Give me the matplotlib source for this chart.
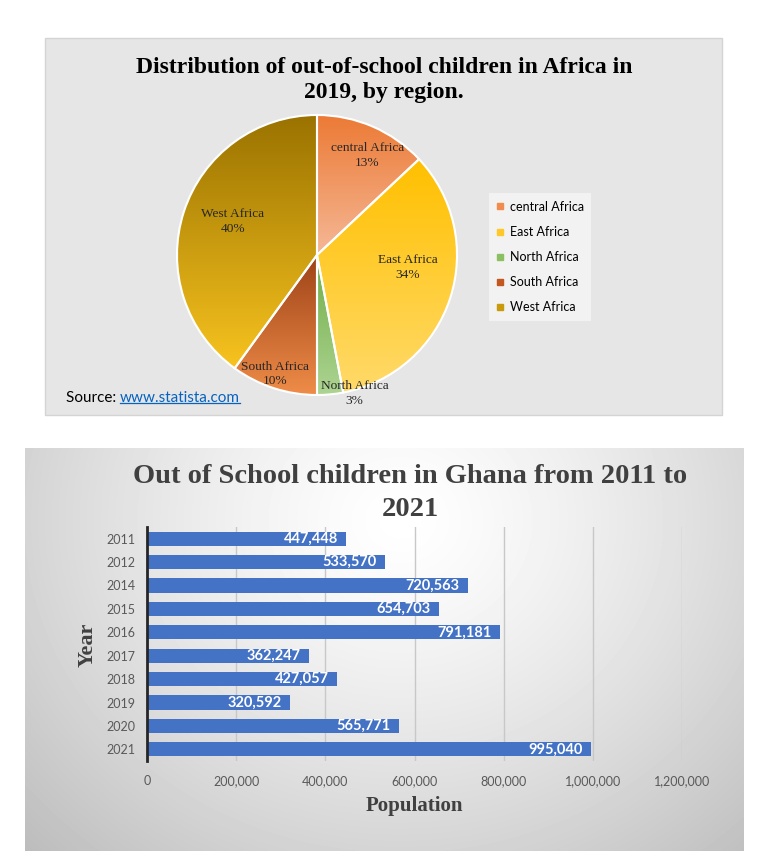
import numpy as np
import matplotlib.pyplot as plt
from matplotlib.colors import LinearSegmentedColormap
from matplotlib.patches import Rectangle
from matplotlib.lines import Line2D
from matplotlib.ticker import FuncFormatter

# ---- data ----
regions = ['central Africa', 'East Africa', 'North Africa', 'South Africa', 'West Africa']
shares = [13, 34, 3, 10, 40]

years = ['2011', '2012', '2014', '2015', '2016', '2017', '2018', '2019', '2020', '2021']
children = [447448, 533570, 720563, 654703, 791181, 362247, 427057, 320592, 565771, 995040]

# wedge gradients (top colour, bottom colour) and legend swatches
grad_top = ['#ec7a35', '#ffc000', '#70ad47', '#9e4318', '#9a7200']
grad_bot = ['#f5b896', '#ffda6a', '#add492', '#ef8c48', '#f7c31f']
legend_cols = ['#f08c4d', '#ffc829', '#8cbf62', '#c4561f', '#c99a0c']
label_xy = [(0.36, 0.71), (0.65, -0.09), (0.27, -0.99), (-0.30, -0.85), (-0.60, 0.24)]

SERIF = 'Liberation Serif'
SANS = 'Lato'

W, H = 768, 866
fig = plt.figure(figsize=(W / 100, H / 100), dpi=100)

# background panels, pixel coordinates
bg = fig.add_axes([0, 0, 1, 1])
bg.add_patch(Rectangle((45, 38), 677, 377, facecolor='#e7e6e6', edgecolor='#d4d4d4', lw=1, zorder=0))
yy, xx = np.mgrid[448:851, 25:744]
d = np.hypot((xx - 400) / 430, (yy - 520) / 380)
g = np.clip(1 - 0.2 * d ** 1.3, 0, 1)
bg.imshow(g, cmap='gray', vmin=0, vmax=1, extent=[25, 744, 851, 448], aspect='auto', zorder=0)
bg.set_xlim(0, W)
bg.set_ylim(H, 0)
bg.axis('off')

# ---- pie ----
cx, cy, R = 317, 255, 140
m = 1.05
pax = fig.add_axes([(cx - R * m) / W, 1 - (cy + R * m) / H, 2 * R * m / W, 2 * R * m / H])
wedges, _ = pax.pie(shares, startangle=90, counterclock=False, radius=1,
                    wedgeprops=dict(edgecolor='white', linewidth=1.5))
grad = np.linspace(0, 1, 256).reshape(-1, 1)
for w, c0, c1 in zip(wedges, grad_top, grad_bot):
    ext = w.get_path().get_extents()
    cmap = LinearSegmentedColormap.from_list('', [c1, c0])
    im = pax.imshow(grad, cmap=cmap, extent=[ext.x0, ext.x1, ext.y0, ext.y1],
                    origin='lower', aspect='auto', zorder=1)
    im.set_clip_path(w)
    w.set_facecolor('none')
    w.set_zorder(2)
pax.set_xlim(-m, m)
pax.set_ylim(-m, m)
pax.axis('off')

for (x, y), name, s in zip(label_xy, regions, shares):
    pax.text(x, y, f'{name}\n{s}%', ha='center', va='center', fontsize=9.6,
             family=SERIF, color='#262626', linespacing=1.25, zorder=5)

handles = [Line2D([], [], marker='s', ls='', color=c, markersize=5) for c in legend_cols]
fig.legend(handles, regions, loc='center', bbox_to_anchor=(540 / W, 1 - 257 / H),
           frameon=True, facecolor='#f2f2f2', edgecolor='none', framealpha=1, fancybox=False,
           prop={'family': SANS, 'size': 9}, labelspacing=1.05, handlelength=0.6,
           handletextpad=0.5, borderpad=0.6)

fig.text(384 / W, 1 - 80 / H, 'Distribution of out-of-school children in Africa in\n2019, by region.',
         ha='center', va='center', fontsize=17, fontweight='bold', family=SERIF,
         color='black', linespacing=1.3)

t1 = fig.text(66 / W, 1 - 398 / H, 'Source: ', fontsize=11, family=SANS, va='center', color='black')
t2 = bg.annotate('www.statista.com', xy=(1, 0), xycoords=t1, va='bottom', ha='left',
                 fontsize=11, family=SANS, color='#0563c1')

# ---- bar chart ----
bax = fig.add_axes([147 / W, 1 - 761 / H, 535 / W, 234 / H])
bax.patch.set_alpha(0)
ypos = np.arange(len(years))
bars = bax.barh(ypos, children, height=0.6, color='#4472c4', zorder=3)
bax.set_ylim(len(years) - 0.5, -0.5)
bax.set_xlim(0, 1200000)
bax.set_xticks(np.arange(0, 1200001, 200000))
bax.xaxis.set_major_formatter(FuncFormatter(lambda v, p: f'{int(v):,}'))
bax.set_yticks(ypos, years)
bax.grid(axis='x', color='#c8c8c8', lw=1, zorder=0)
for s in ['top', 'right', 'bottom']:
    bax.spines[s].set_visible(False)
bax.spines['left'].set_color('#262626')
bax.spines['left'].set_linewidth(2)
bax.spines['left'].set_zorder(4)
bax.tick_params(length=0, labelsize=9, labelcolor='#595959')
bax.tick_params(axis='x', pad=10)
bax.tick_params(axis='y', pad=8.5)
for lab in bax.get_xticklabels() + bax.get_yticklabels():
    lab.set_family(SANS)

for b, v in zip(bars, children):
    bax.annotate(f'{v:,}', xy=(v, b.get_y() + b.get_height() / 2), xytext=(-6, 0),
                 textcoords='offset points', ha='right', va='center', color='white',
                 fontweight='bold', fontsize=10.5, family=SANS, zorder=5)

fig.text(410 / W, 1 - 493 / H, 'Out of School children in Ghana from 2011 to\n2021',
         ha='center', va='center', fontsize=20.5, fontweight='bold', family=SERIF,
         color='#404040', linespacing=1.4)
fig.text(88 / W, 1 - 645 / H, 'Year', rotation=90, ha='center', va='center', fontsize=16,
         fontweight='bold', family=SERIF, color='#404040')
fig.text(414 / W, 1 - 806 / H, 'Population', ha='center', va='center', fontsize=15,
         fontweight='bold', family=SERIF, color='#404040')

# underline the link
fig.canvas.draw()
bb = t2.get_window_extent()
inv = bg.transData.inverted()
(ux0, uy), (ux1, _) = inv.transform([(bb.x0, bb.y0 + 2), (bb.x1, bb.y0 + 2)])
bg.plot([ux0, ux1], [uy, uy], color='#0563c1', lw=0.9)

fig.savefig('out.png', dpi=100)
